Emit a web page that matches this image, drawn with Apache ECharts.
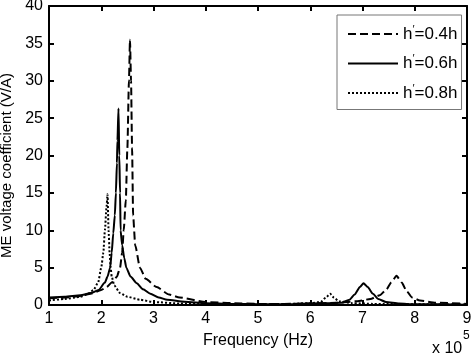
<!DOCTYPE html>
<html>
<head>
<meta charset="utf-8">
<script src="https://cdn.jsdelivr.net/npm/echarts@6/dist/echarts.min.js"></script>
<style>html,body{margin:0;padding:0;background:#fff}#c{width:474px;height:355px}</style>
</head>
<body>
<div id="c"></div>
<script>
// Frequency in units of 1e5 Hz, values in V/A
const seriesNames = ["h'=0.4h", "h'=0.6h", "h'=0.8h"];
const freq04 = [1.0,1.3,1.6,1.8,2.0,2.1,2.2,2.25,2.3,2.36,2.4,2.43,2.47,2.5,2.53,2.55,2.57,2.59,2.61,2.65,2.74,2.85,3.06,3.3,3.5,4.0,4.5,5.0,5.5,6.0,6.5,6.9,7.15,7.33,7.45,7.55,7.65,7.75,7.85,7.95,8.1,8.4,9.0];
const val04  = [0.9,1.0,1.2,1.5,2.0,2.4,3.0,3.4,3.8,5.0,7,10,14,21,30,35.5,30,21,12,8,5,3.5,2.4,1.4,1.0,0.4,0.25,0.15,0.15,0.2,0.3,0.5,0.8,1.3,2.0,3.0,3.9,3.0,1.8,1.0,0.6,0.3,0.15];
const freq06 = [1.0,1.3,1.6,1.8,1.95,2.07,2.12,2.17,2.2,2.23,2.26,2.28,2.3,2.31,2.33,2.345,2.36,2.37,2.4,2.44,2.48,2.56,2.68,2.8,2.94,3.1,3.26,3.6,4.0,4.5,5.0,5.5,6.0,6.3,6.6,6.75,6.85,6.95,7.02,7.1,7.2,7.3,7.45,7.7,8.0,8.5,9.0];
const val06  = [1.0,1.1,1.3,1.6,2.0,3.0,3.8,5.0,7.0,9.6,12,15,19,22,26.3,20,15,10,8,6.3,5.0,3.8,2.9,2.1,1.5,1.0,0.7,0.45,0.25,0.15,0.1,0.1,0.2,0.25,0.3,0.7,1.4,2.4,2.9,2.4,1.5,0.8,0.4,0.2,0.1,0.1,0.05];
const freq08 = [1.0,1.3,1.6,1.75,1.85,1.94,2.0,2.04,2.07,2.1,2.12,2.14,2.16,2.18,2.2,2.25,2.36,2.5,2.74,3.0,3.5,4.0,5.0,5.6,6.0,6.2,6.3,6.38,6.45,6.55,6.8,7.2,8.0,9.0];
const val08  = [0.6,0.8,1.1,1.5,2.0,3.0,5.0,7.0,10,13,14.8,10,7,5,3.8,2.6,1.6,1.1,0.7,0.4,0.2,0.15,0.1,0.15,0.25,0.4,1.0,1.5,1.0,0.5,0.25,0.15,0.1,0.05];
const xTicks = {min: 1, max: 9, interval: 1};
const yTicks = {min: 0, max: 40, interval: 5};

const FONT = "'Liberation Sans', Arial, Helvetica, sans-serif";
const pairs = (xs, ys) => xs.map((x, i) => [x, ys[i]]);

const axisCommon = {
  axisLine: {show: true, onZero: false, lineStyle: {color: '#000', width: 2}},
  axisTick: {show: true, inside: true, length: 5, lineStyle: {color: '#000', width: 2}},
  splitLine: {show: false}
};

const chart = echarts.init(document.getElementById('c'), null, {renderer: 'canvas'});
chart.setOption({
  animation: false,
  backgroundColor: '#fff',
  grid: {left: 49, right: 7, top: 6, bottom: 50, containLabel: false, outerBoundsMode: 'none'},
  xAxis: [
    Object.assign({type: 'value', position: 'bottom', min: xTicks.min, max: xTicks.max, interval: xTicks.interval,
      name: 'Frequency (Hz)', nameLocation: 'middle', nameGap: 28,
      nameTextStyle: {fontFamily: FONT, fontSize: 16, color: '#000'},
      axisLabel: {fontFamily: FONT, fontSize: 16, color: '#000', margin: 6}}, axisCommon),
    Object.assign({type: 'value', position: 'top', min: xTicks.min, max: xTicks.max, interval: xTicks.interval,
      axisLabel: {show: false}}, axisCommon)
  ],
  yAxis: [
    Object.assign({type: 'value', position: 'left', min: yTicks.min, max: yTicks.max, interval: yTicks.interval,
      name: 'ME voltage coefficient (V/A)', nameLocation: 'middle', nameGap: 29,
      nameTextStyle: {fontFamily: FONT, fontSize: 15, color: '#000', padding: [0, 20, 0, 0]},
      axisLabel: {fontFamily: FONT, fontSize: 16, color: '#000', margin: 6}}, axisCommon),
    Object.assign({type: 'value', position: 'right', min: yTicks.min, max: yTicks.max, interval: yTicks.interval,
      axisLabel: {show: false}}, axisCommon)
  ],
  legend: {
    orient: 'vertical', left: 337, top: 15,
    padding: [9, 4, 8, 10], itemGap: 11, itemWidth: 50, itemHeight: 16,
    borderColor: '#777', borderWidth: 1, backgroundColor: '#fff',
    itemStyle: {color: 'rgba(0,0,0,0)', borderWidth: 0, opacity: 0},
    formatter: function (name) { return '{a|h}{p|\u2032}{a|' + name.slice(2) + '}'; },
    textStyle: {fontFamily: FONT, fontSize: 17, color: '#000',
      rich: {a: {fontFamily: FONT, fontSize: 17, color: '#000'},
             p: {fontFamily: FONT, fontSize: 11, color: '#000', padding: [0, 0, 9, 0]}}},
    data: seriesNames
  },
  graphic: [
    {type: 'text', left: 432, top: 341, style: {text: 'x 10', font: '16px ' + FONT, fill: '#000'}},
    {type: 'text', left: 463, top: 330, style: {text: '5', font: '12px ' + FONT, fill: '#000'}}
  ],
  series: [
    {name: seriesNames[0], type: 'line', data: pairs(freq04, val04), symbol: 'none', smooth: 0.2, smoothMonotone: 'x',
      lineStyle: {color: '#000', width: 2, type: [8, 4]}, itemStyle: {color: '#000'}},
    {name: seriesNames[1], type: 'line', data: pairs(freq06, val06), symbol: 'none', smooth: 0.2, smoothMonotone: 'x',
      lineStyle: {color: '#000', width: 2, type: 'solid'}, itemStyle: {color: '#000'}},
    {name: seriesNames[2], type: 'line', data: pairs(freq08, val08), symbol: 'none', smooth: 0.2, smoothMonotone: 'x',
      lineStyle: {color: '#000', width: 2, type: [2, 2]}, itemStyle: {color: '#000'}}
  ]
});
</script>
</body>
</html>
